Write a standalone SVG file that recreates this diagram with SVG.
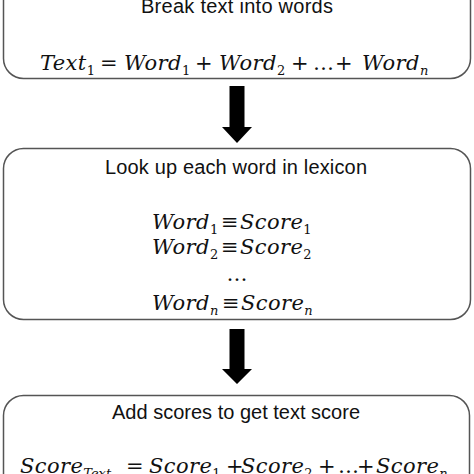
<svg xmlns="http://www.w3.org/2000/svg" width="474" height="474" viewBox="0 0 474 474">
<style>
.box{fill:#fff;stroke:#555;stroke-width:1.5}
.t{font-family:"Liberation Sans",Arial,sans-serif;font-size:20px;fill:#111}
.m{font-family:"DejaVu Serif","Liberation Serif",serif;font-style:italic;font-size:21px;letter-spacing:0.4px;fill:#111}
.u{font-style:normal;letter-spacing:0}
.s{font-size:13px;letter-spacing:0}
.arr{fill:#000}
</style>
<rect width="474" height="474" fill="#fff"/>
<g id="connectors">
<path class="arr" d="M229.5,86 H244.5 V127 H252 L237,143 L222,127 H229.5 Z"/>
<path class="arr" d="M229.5,329 H244.5 V369 H252 L237,384 L222,369 H229.5 Z"/>
</g>
<g id="node-break">
<rect class="box" x="3.5" y="-40" width="467" height="118.5" rx="20"/>
<text class="t" x="237" y="13" text-anchor="middle" textLength="192">Break text into words</text>
<text class="m"><tspan x="40" y="70">Text</tspan><tspan class="s u" y="75">1</tspan><tspan class="u" x="100" y="70">=</tspan><tspan x="124" y="70">Word</tspan><tspan class="s u" y="75">1</tspan><tspan class="u" x="195" y="70">+</tspan><tspan x="219" y="70">Word</tspan><tspan class="s u" y="75">2</tspan><tspan class="u" x="291" y="70">+</tspan><tspan class="u" x="313" y="70">…</tspan><tspan class="u" x="335" y="70">+</tspan><tspan x="362" y="70">Word</tspan><tspan class="s" y="75">n</tspan></text>
</g>
<g id="node-lookup">
<rect class="box" x="3.5" y="148.5" width="467" height="171" rx="20"/>
<text class="t" x="236" y="174" text-anchor="middle" textLength="262">Look up each word in lexicon</text>
<text class="m"><tspan x="152" y="229">Word</tspan><tspan class="s u" y="234">1</tspan><tspan class="u" x="221" y="229">≡</tspan><tspan x="240" y="229">Score</tspan><tspan class="s u" y="234">1</tspan></text>
<text class="m"><tspan x="152" y="254">Word</tspan><tspan class="s u" y="259">2</tspan><tspan class="u" x="221" y="254">≡</tspan><tspan x="240" y="254">Score</tspan><tspan class="s u" y="259">2</tspan></text>
<text class="m u" x="237" y="281" text-anchor="middle">…</text>
<text class="m"><tspan x="152" y="310">Word</tspan><tspan class="s" y="315">n</tspan><tspan class="u" x="222" y="310">≡</tspan><tspan x="241" y="310">Score</tspan><tspan class="s" y="315">n</tspan></text>
</g>
<g id="node-add">
<rect class="box" x="3.5" y="395.5" width="466" height="120" rx="20"/>
<text class="t" x="236" y="419" text-anchor="middle" textLength="248">Add scores to get text score</text>
<text class="m"><tspan x="20" y="473">Score</tspan><tspan class="s" y="478">Text</tspan><tspan class="u" x="126" y="473">=</tspan><tspan x="149" y="473">Score</tspan><tspan class="s u" y="478">1</tspan><tspan class="u" x="226" y="473">+</tspan><tspan x="241" y="473">Score</tspan><tspan class="s u" y="478">2</tspan><tspan class="u" x="318" y="473">+</tspan><tspan class="u" x="338" y="473">…</tspan><tspan class="u" x="357" y="473">+</tspan><tspan x="376" y="473">Score</tspan><tspan class="s" y="478">n</tspan></text>
</g>
</svg>
